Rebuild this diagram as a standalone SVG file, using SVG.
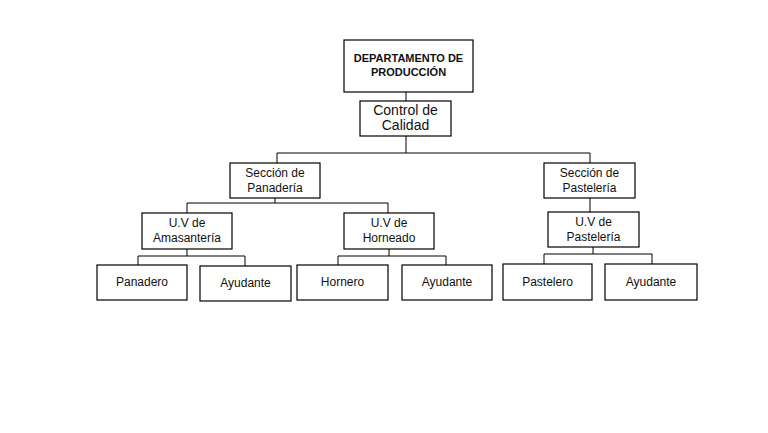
<svg xmlns="http://www.w3.org/2000/svg" width="768" height="433" viewBox="0 0 768 433">
<style>
rect{fill:#fff;stroke:#000;stroke-width:1.2}
text{font-family:"Liberation Sans",Arial,sans-serif;font-size:12px;fill:#111;text-anchor:middle}
.c path{fill:none;stroke:#000;stroke-width:1}
</style>
<rect x="0" y="0" width="768" height="433" style="stroke:none"/>
<g class="c">
<path d="M406,92V101M406,136V153M277,153H590V163M277,153V163"/>
<path d="M275,198V203M187,203H388M187,203V213M388,203V213"/>
<path d="M187,249V256M138,256H245M138,256V265M245,256V266"/>
<path d="M389,249V256M338,256H446M338,256V265M446,256V265"/>
<path d="M590,198V212M593,247V254M544,254H652M544,254V264M652,254V264"/>
</g>
<g id="dept"><rect x="344" y="40" width="129" height="52"/><text x="408.5" y="62" style="font-weight:bold;font-size:11px">DEPARTAMENTO DE</text><text x="408.5" y="76" style="font-weight:bold;font-size:11px">PRODUCCIÓN</text></g>
<g id="control"><rect x="360" y="101" width="91" height="35"/><text x="405.5" y="115" style="font-size:14px">Control de</text><text x="405.5" y="130" style="font-size:14px">Calidad</text></g>
<g id="secpan"><rect x="230" y="163" width="90" height="35"/><text x="275" y="177">Sección de</text><text x="275" y="192">Panadería</text></g>
<g id="secpas"><rect x="544" y="163" width="91" height="35"/><text x="589.5" y="177">Sección de</text><text x="589.5" y="192">Pastelería</text></g>
<g id="uvama"><rect x="142" y="213" width="90" height="36"/><text x="187" y="227">U.V de</text><text x="187" y="242">Amasantería</text></g>
<g id="uvhor"><rect x="344" y="213" width="90" height="36"/><text x="389" y="227">U.V de</text><text x="389" y="242">Horneado</text></g>
<g id="uvpas"><rect x="548" y="212" width="91" height="35"/><text x="593.5" y="226">U.V de</text><text x="593.5" y="241">Pastelería</text></g>
<g id="panadero"><rect x="97" y="265" width="90" height="35"/><text x="142" y="286">Panadero</text></g>
<g id="ayud1"><rect x="200" y="266" width="91" height="35"/><text x="245.5" y="287">Ayudante</text></g>
<g id="hornero"><rect x="297" y="265" width="91" height="35"/><text x="342.5" y="286">Hornero</text></g>
<g id="ayud2"><rect x="402" y="265" width="90" height="35"/><text x="447" y="286">Ayudante</text></g>
<g id="pastelero"><rect x="503" y="264" width="89" height="36"/><text x="547.5" y="286">Pastelero</text></g>
<g id="ayud3"><rect x="605" y="264" width="92" height="36"/><text x="651" y="286">Ayudante</text></g>
</svg>
